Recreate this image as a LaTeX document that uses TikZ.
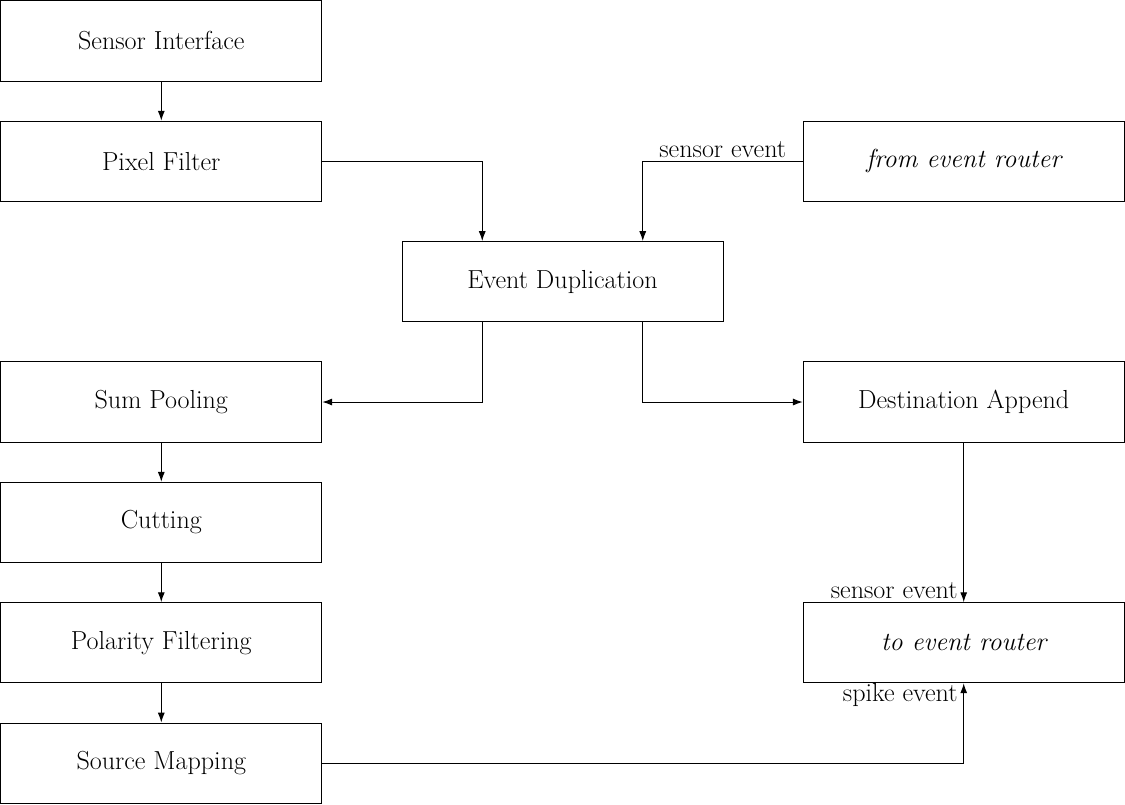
\documentclass[tikz,border=0pt]{standalone}
\usetikzlibrary{arrows.meta}
\begin{document}
\begin{tikzpicture}[x=1cm,y=1cm,
  box/.style={draw,line width=0.7pt,minimum width=8cm,minimum height=2cm,inner sep=0pt,font=\fontsize{18.5}{22}\selectfont},
  arr/.style={draw,line width=0.7pt,-{Latex[length=7pt,width=5pt]}},
  lab/.style={font=\fontsize{18.5}{22}\selectfont,inner sep=2pt}]
\useasboundingbox (-0.02,0.02) rectangle (28.02,-20.02);
\node[box] (si) at (4,-1) {Sensor Interface};
\node[box] (pf) at (4,-4) {Pixel Filter};
\node[box] (fer) at (24,-4) {\itshape from event router};
\node[box] (ed) at (14,-7) {Event Duplication};
\node[box] (sp) at (4,-10) {Sum Pooling};
\node[box] (da) at (24,-10) {Destination Append};
\node[box] (cu) at (4,-13) {Cutting};
\node[box] (pol) at (4,-16) {Polarity Filtering};
\node[box] (ter) at (24,-16) {\itshape to event router};
\node[box] (sm) at (4,-19) {Source Mapping};
\draw[arr] (si) -- (pf);
\draw[arr] (sp) -- (cu);
\draw[arr] (cu) -- (pol);
\draw[arr] (pol) -- (sm);
\draw[arr] (pf.east) -| ([xshift=-2cm]ed.north);
\draw[arr] (fer.west) -| node[lab,pos=0.25,above] {sensor event} ([xshift=2cm]ed.north);
\draw[arr] ([xshift=-2cm]ed.south) |- (sp.east);
\draw[arr] ([xshift=2cm]ed.south) |- (da.west);
\draw[arr] (da.south) -- node[lab,pos=0.93,left,xshift=-2pt] {sensor event} (ter.north);
\draw[arr] (sm.east) -| node[lab,pos=0.93,left,xshift=-2pt] {spike event} (ter.south);
\end{tikzpicture}
\end{document}
